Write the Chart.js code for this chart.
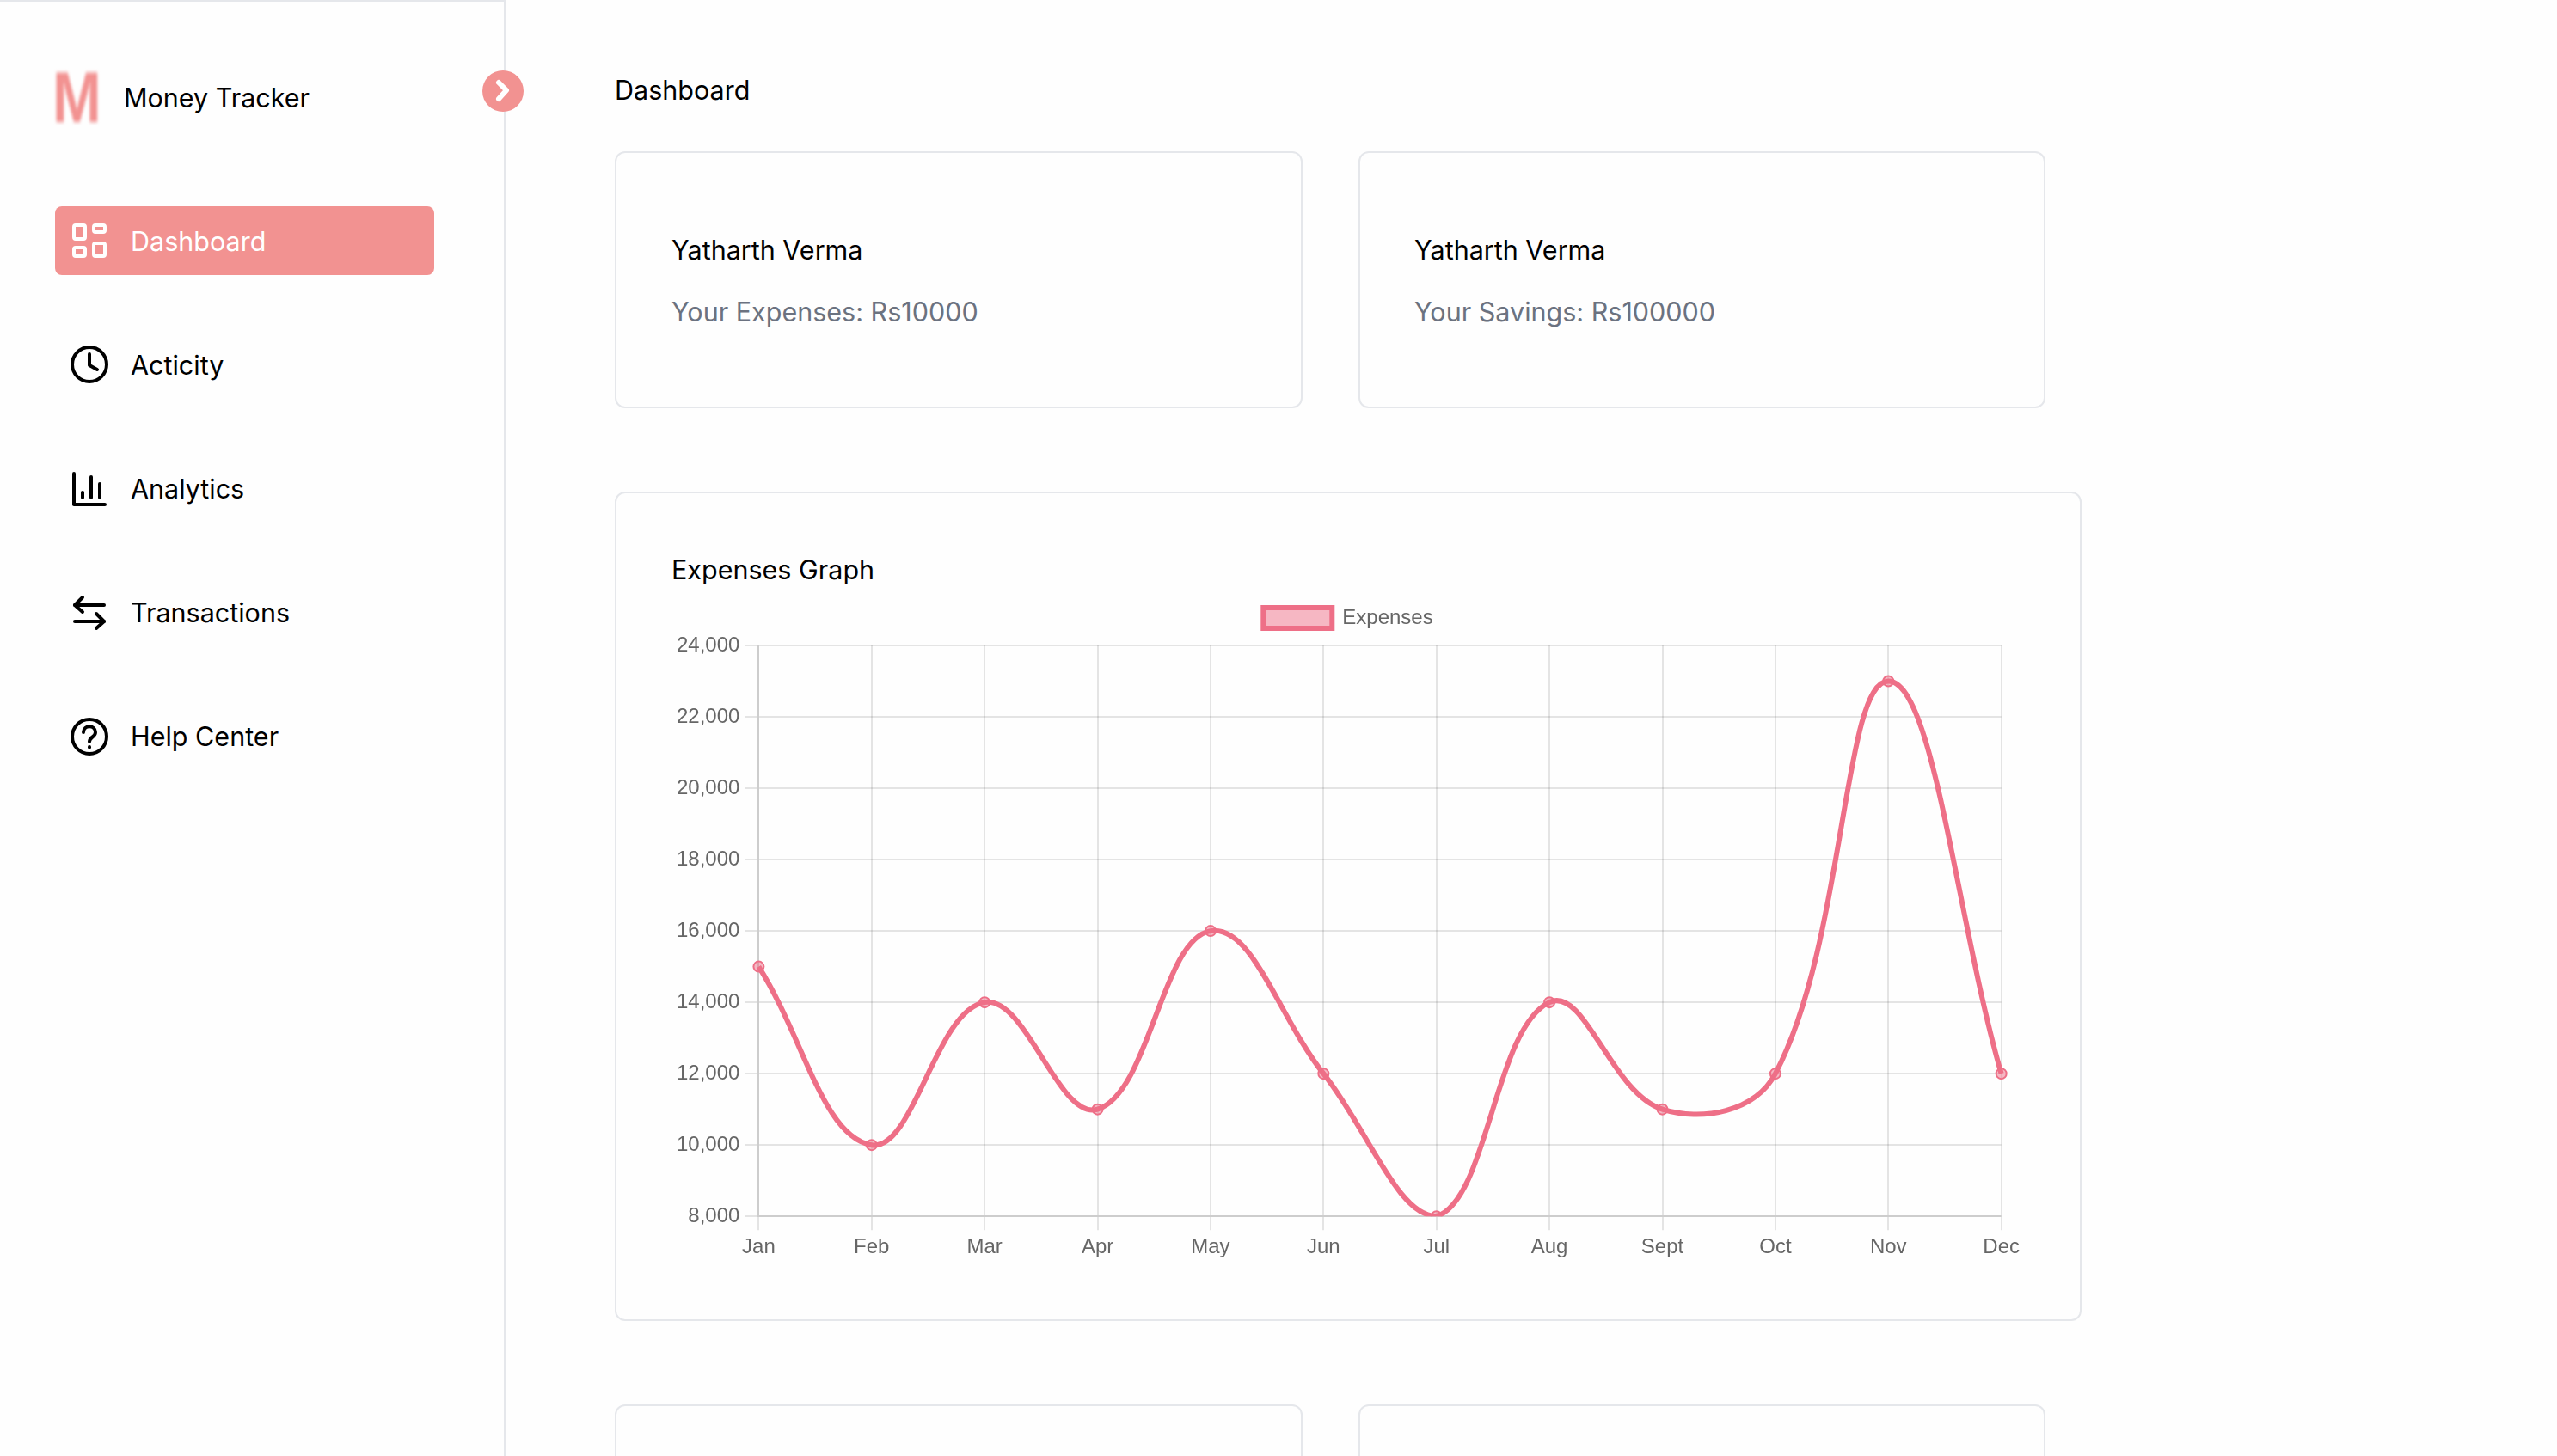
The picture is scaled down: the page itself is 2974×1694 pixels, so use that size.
<!DOCTYPE html>
<html>
<head>
<meta charset="utf-8">
<title>Money Tracker</title>
<script src="https://cdn.jsdelivr.net/npm/chart.js@4"></script>
<style>
  html, body { margin: 0; padding: 0; background: #fefefe; }
  body { width: 2974px; height: 1694px; position: relative; overflow: hidden; font-family: Inter, "Noto Sans", sans-serif; color: #000; }
  .txt { position: absolute; line-height: 40px; height: 40px; font-size: 30.5px; white-space: nowrap; }
  .sub { color: #6b7280; }
  .card { position: absolute; box-sizing: border-box; border: 2px solid #e5e7eb; border-radius: 12px; background: #fefefe; }
  #sidebar { position: absolute; left: 0; top: 0; width: 588px; height: 1694px; box-sizing: border-box; border-top: 2px solid #e5e7eb; border-right: 2px solid #e5e7eb; }
  #logo { position: absolute; left: 61px; top: 69px; font: bold 83px/90px "Liberation Sans"; color: #f29291; transform: scaleX(0.82); transform-origin: left center; filter: blur(2px); }
  #active { position: absolute; left: 64px; top: 240px; width: 441px; height: 80px; border-radius: 8px; background: #f29291; }
  #toggle { position: absolute; left: 561px; top: 82px; width: 48px; height: 48px; border-radius: 50%; background: #f29291; }
  svg { position: absolute; overflow: visible; fill: none; stroke-linecap: round; stroke-linejoin: round; }
  #chart { position: absolute; left: 781px; top: 685px; }
</style>
</head>
<body>
  <div id="sidebar"></div>
  <div id="logo">M</div>
  <div class="txt" style="left:144px;top:94px">Money Tracker</div>
  <div id="toggle"></div>
  <svg style="left:561px;top:82px" width="48" height="48" stroke="#fff" stroke-width="6"><path d="M19 14 L28 23 L19 33"/></svg>

  <div id="active"></div>
  <svg style="left:84px;top:260px" width="40" height="40" stroke="#fff" stroke-width="4">
    <rect x="2" y="2" width="13" height="16" rx="2"/><rect x="25" y="2" width="13" height="8" rx="2"/>
    <rect x="2" y="28" width="13" height="10" rx="2"/><rect x="25" y="23" width="13" height="15" rx="2"/>
  </svg>
  <div class="txt" style="left:152px;top:261px;color:#fff">Dashboard</div>

  <svg style="left:82px;top:402px" width="44" height="44" stroke="#000" stroke-width="4">
    <circle cx="22" cy="22" r="20"/><path d="M22 10 V23 L31 28"/>
  </svg>
  <div class="txt" style="left:152px;top:405px">Acticity</div>

  <svg style="left:84px;top:549px" width="40" height="40" stroke="#000" stroke-width="4">
    <path d="M2 2 V38 H38"/><path d="M12 24 V30"/><path d="M22 6 V30"/><path d="M32 14 V30"/>
  </svg>
  <div class="txt" style="left:152px;top:549px">Analytics</div>

  <svg style="left:86px;top:693px" width="36" height="40" stroke="#000" stroke-width="4">
    <path d="M1 11 H35"/><path d="M10 2 L1 11 L10 19"/><path d="M1 30 H35"/><path d="M26 21 L35 30 L26 38"/>
  </svg>
  <div class="txt" style="left:152px;top:693px">Transactions</div>

  <svg style="left:82px;top:835px" width="44" height="44" stroke="#000" stroke-width="4">
    <circle cx="22" cy="22" r="20"/><path d="M15 17 C15 8 29 8 29 17 C29 23 22 22 22 28"/><path d="M22 34 V34.5"/>
  </svg>
  <div class="txt" style="left:152px;top:837px">Help Center</div>

  <div class="txt" style="left:715px;top:85px">Dashboard</div>

  <div class="card" style="left:715px;top:176px;width:800px;height:299px"></div>
  <div class="txt" style="left:781px;top:271px">Yatharth Verma</div>
  <div class="txt sub" style="left:781px;top:343px">Your Expenses: Rs10000</div>

  <div class="card" style="left:1580px;top:176px;width:799px;height:299px"></div>
  <div class="txt" style="left:1645px;top:271px">Yatharth Verma</div>
  <div class="txt sub" style="left:1645px;top:343px">Your Savings: Rs100000</div>

  <div class="card" style="left:715px;top:572px;width:1706px;height:965px"></div>
  <div class="txt" style="left:781px;top:643px">Expenses Graph</div>
  <canvas id="chart" width="1574" height="787"></canvas>

  <div class="card" style="left:715px;top:1634px;width:800px;height:200px"></div>
  <div class="card" style="left:1580px;top:1634px;width:799px;height:200px"></div>

<script>
const months = ['Jan', 'Feb', 'Mar', 'Apr', 'May', 'Jun', 'Jul', 'Aug', 'Sept', 'Oct', 'Nov', 'Dec'];
const expenses = [15000, 10000, 14000, 11000, 16000, 12000, 8000, 14000, 11000, 12000, 23000, 12000];
const yMin = 8000;
const yMax = 24000;
const yStep = 2000;

const LINE = '#ee6f87';
const FILL = 'rgba(238, 111, 135, 0.5)';
const GRID = 'rgba(0, 0, 0, 0.1)';

Chart.defaults.font.family = '"Liberation Sans", Arial, sans-serif';
Chart.defaults.font.size = 24;
Chart.defaults.color = '#666';

// extra room under the legend so the plot starts where it does in the original
const legendGap = {
  id: 'legendGap',
  beforeInit(chart) {
    const fit = chart.legend.fit;
    chart.legend.fit = function() {
      fit.call(this);
      this.height += 10;
    };
  }
};

new Chart(document.getElementById('chart'), {
  type: 'line',
  data: {
    labels: months,
    datasets: [{
      label: 'Expenses',
      data: expenses,
      borderColor: LINE,
      backgroundColor: FILL,
      borderWidth: 6,
      tension: 0.4,
      pointRadius: 6,
      pointBorderWidth: 2
    }]
  },
  options: {
    responsive: false,
    animation: false,
    devicePixelRatio: 1,
    plugins: {
      legend: { labels: { boxWidth: 80, boxHeight: 24, padding: 22 } },
      tooltip: { enabled: false }
    },
    scales: {
      x: {
        grid: { color: GRID, lineWidth: 2, tickLength: 16 },
        border: { color: GRID, width: 2 },
        ticks: { padding: 6, maxRotation: 0 }
      },
      y: {
        min: yMin,
        max: yMax,
        grid: { color: GRID, lineWidth: 2, tickLength: 16 },
        border: { color: GRID, width: 2 },
        ticks: { stepSize: yStep, padding: 6 }
      }
    }
  },
  plugins: [legendGap]
});
</script>
</body>
</html>
